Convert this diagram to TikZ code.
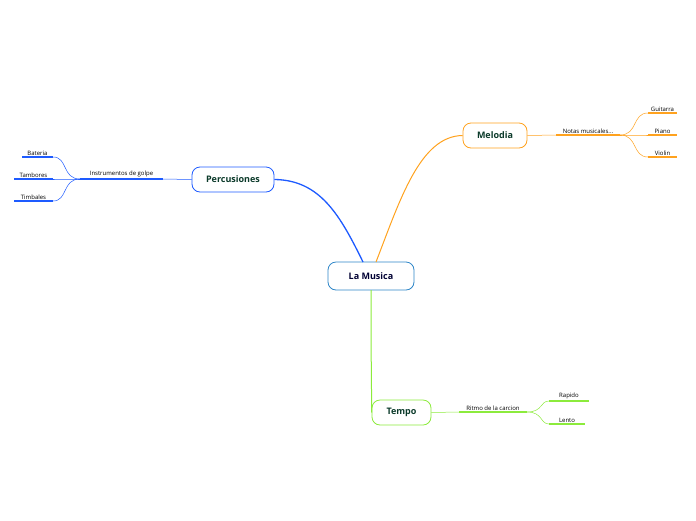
\documentclass[tikz,border=0pt]{standalone}
\usepackage{fontspec}
\setmainfont{Open Sans}
\usetikzlibrary{calc}
\definecolor{cb}{HTML}{1E5BFF}\definecolor{co}{HTML}{FFA21E}\definecolor{cg}{HTML}{8CEB3C}\definecolor{cc}{HTML}{2E86C8}
\definecolor{tx}{HTML}{0B3A2A}
\begin{document}
\begin{tikzpicture}[x=1pt,y=-1pt,
 mainbox/.style={draw=#1,rounded corners=8pt,line width=0.8pt,fill=white,font=\bfseries\fontsize{9}{10}\selectfont,text=tx,inner sep=0pt},
 lbl/.style={font=\fontsize{6}{7}\selectfont,text=black,inner sep=1.5pt}]
\useasboundingbox (0,0) rectangle (696,520);
\coordinate (cp) at (363,262); \coordinate (cm) at (376,262); \coordinate (ct) at (371,290);
\node[mainbox=cc,minimum width=86pt,minimum height=28pt,text=black!80!blue] (c) at (371,276) {La Musica};
\node[mainbox=cb,minimum width=82pt,minimum height=25pt] (p) at (233,179.5) {Percusiones};
\node[mainbox=co,minimum width=64pt,minimum height=25pt] (m) at (495,135.5) {Melodia};
\node[mainbox=cg,minimum width=59pt,minimum height=25pt] (t) at (401.5,412.5) {Tempo};
\draw[draw=cb,line width=1.3pt] (cp) .. controls (340,215) and (320,180) .. (p.east);
\draw[draw=co,line width=1pt] (cm) .. controls (400,200) and (420,136) .. (m.west);
\draw[draw=cg,line width=1pt] (ct) .. controls (371,380) and (372,412) .. (t.west);
% Percusiones
\coordinate (pi1) at (163,179); \coordinate (pi0) at (80,179);
\draw[draw=cb,line width=0.5pt] (p.west) -- (pi1);
\draw[draw=cb,line width=1.2pt] (pi1) -- (pi0);
\node[lbl,anchor=south] (pil) at (121.5,179) {Instrumentos de golpe};
\foreach \n/\y/\xl/\t in {b1/157/22/Bateria,b2/179/14/Tambores,b3/201/14/Timbales}{
 \coordinate (\n r) at (53,\y); \coordinate (\n l) at (\xl,\y);
 \draw[draw=cb,line width=0.5pt] (pi0) .. controls (62,179) and (68,\y) .. (\n r);
 \draw[draw=cb,line width=1.2pt] (\n r) -- (\n l);
 \node[lbl,anchor=south] (\n t) at ($(\n r)!0.5!(\n l)$) {\t};}
% Melodia
\coordinate (mn0) at (556,135); \coordinate (mn1) at (620,135);
\draw[draw=co,line width=0.5pt] (m.east) -- (mn0);
\draw[draw=co,line width=1.2pt] (mn0) -- (mn1);
\node[lbl,anchor=south] (mnl) at (588,135) {Notas musicales...};
\foreach \n/\y/\t in {g1/113/Guitarra,g2/135/Piano,g3/157/Violin}{
 \coordinate (\n l) at (648,\y); \coordinate (\n r) at (677,\y);
 \draw[draw=co,line width=0.5pt] (mn1) .. controls (638,135) and (632,\y) .. (\n l);
 \draw[draw=co,line width=1.2pt] (\n l) -- (\n r);
 \node[lbl,anchor=south] (\n t) at ($(\n l)!0.5!(\n r)$) {\t};}
% Tempo
\coordinate (tr0) at (459,412); \coordinate (tr1) at (527,412);
\draw[draw=cg,line width=0.5pt] (t.east) -- (tr0);
\draw[draw=cg,line width=1.2pt] (tr0) -- (tr1);
\node[lbl,anchor=south] (trl) at (493,412) {Ritmo de la carcion};
\foreach \n/\y/\xr/\t in {r1/401/589/Rapido,r2/424/585/Lento}{
 \coordinate (\n l) at (549,\y); \coordinate (\n r) at (\xr,\y);
 \draw[draw=cg,line width=0.5pt] (tr1) .. controls (543,412) and (540,\y) .. (\n l);
 \draw[draw=cg,line width=1.2pt] (\n l) -- (\n r);
 \node[lbl,anchor=south] (\n t) at ($(\n l)!0.5!(\n r)$) {\t};}
\end{tikzpicture}
\end{document}
